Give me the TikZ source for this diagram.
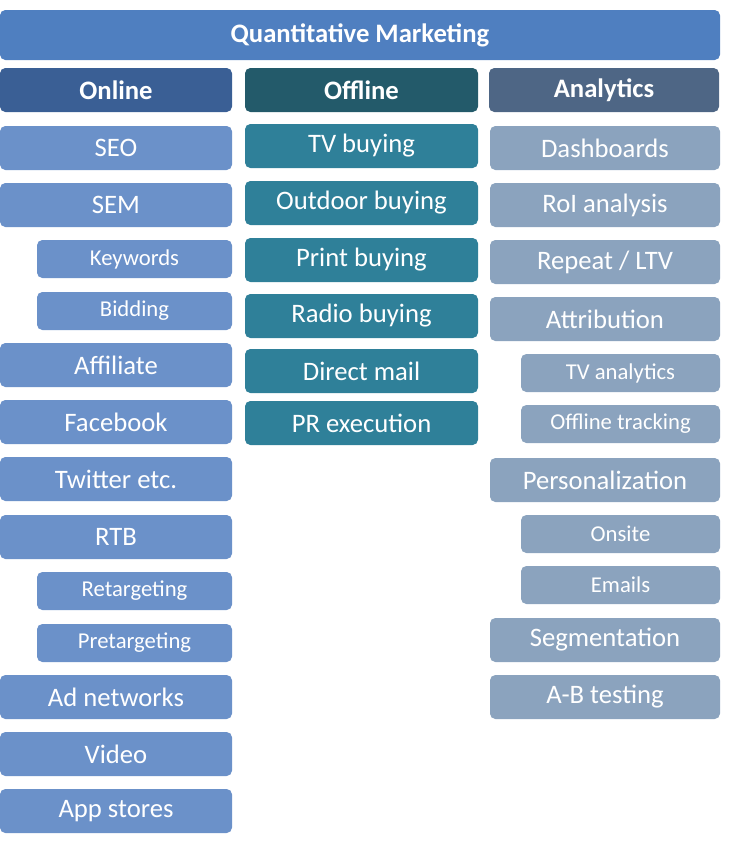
\documentclass[tikz,border=0pt]{standalone}
\usepackage{fontspec}
\setmainfont{Carlito}
\definecolor{titleblue}{HTML}{4F7FC0}
\definecolor{onhead}{HTML}{3A5F95}
\definecolor{offhead}{HTML}{235A6A}
\definecolor{anhead}{HTML}{4E6685}
\definecolor{onitem}{HTML}{6B91C9}
\definecolor{offitem}{HTML}{2F8099}
\definecolor{anitem}{HTML}{8BA3BE}
\begin{document}
\begin{tikzpicture}[x=0.75pt,y=-0.75pt]
  \tikzstyle{box}=[rounded corners=4pt, text=white, inner sep=0pt]
  \tikzstyle{head}=[box, minimum height=33pt, font=\fontsize{20}{24}\selectfont\bfseries]
  \tikzstyle{item}=[box, minimum height=33pt, font=\fontsize{20}{24}\selectfont]
  \tikzstyle{sub}=[box, minimum height=28.5pt, font=\fontsize{17}{20}\selectfont]
  \tikzstyle{on}=[fill=onitem, minimum width=174pt]
  \tikzstyle{onsub}=[fill=onitem, minimum width=146.25pt]
  \tikzstyle{off}=[fill=offitem, minimum width=174.75pt]
  \tikzstyle{an}=[fill=anitem, minimum width=172.5pt]
  \tikzstyle{ansub}=[fill=anitem, minimum width=149.25pt]

  \useasboundingbox (0,0) rectangle (729,851);

  \node[head, fill=titleblue, minimum width=540pt, minimum height=37.5pt] (title) at (360,35) {Quantitative Marketing};
  \node[head, fill=onhead, minimum width=174pt]    (online)    at (116,90)   {Online};
  \node[head, fill=offhead, minimum width=174.75pt] (offline)  at (361.5,90) {Offline};
  \node[head, fill=anhead, minimum width=172.5pt]  (analytics) at (604,90)   {Analytics};

  % online
  \node[item, on]    (seo)   at (116,148)   {SEO};
  \node[item, on]    (sem)   at (116,205)   {SEM};
  \node[sub, onsub]  (kw)    at (134.5,259) {Keywords};
  \node[sub, onsub]  (bid)   at (134.5,311) {Bidding};
  \node[item, on]    (aff)   at (116,365)   {Affiliate};
  \node[item, on]    (fb)    at (116,422)   {Facebook};
  \node[item, on]    (tw)    at (116,479)   {Twitter etc.};
  \node[item, on]    (rtb)   at (116,537)   {RTB};
  \node[sub, onsub]  (ret)   at (134.5,591) {Retargeting};
  \node[sub, onsub]  (pre)   at (134.5,643) {Pretargeting};
  \node[item, on]    (adn)   at (116,697)   {Ad networks};
  \node[item, on]    (vid)   at (116,754)   {Video};
  \node[item, on]    (app)   at (116,811)   {App stores};

  % offline
  \node[item, off]   (tv)    at (361.5,146) {TV buying};
  \node[item, off]   (out)   at (361.5,203) {Outdoor buying};
  \node[item, off]   (print) at (361.5,260) {Print buying};
  \node[item, off]   (radio) at (361.5,316) {Radio buying};
  \node[item, off]   (mail)  at (361.5,371) {Direct mail};
  \node[item, off]   (pr)    at (361.5,423) {PR execution};

  % analytics
  \node[item, an]    (dash)  at (605,148)   {Dashboards};
  \node[item, an]    (roi)   at (605,205)   {RoI analysis};
  \node[item, an]    (rep)   at (605,262)   {Repeat / LTV};
  \node[item, an]    (attr)  at (605,319)   {Attribution};
  \node[sub, ansub]  (tva)   at (620.5,373) {TV analytics};
  \node[sub, ansub]  (offt)  at (620.5,424) {Offline tracking};
  \node[item, an]    (pers)  at (605,480)   {Personalization};
  \node[sub, ansub]  (ons)   at (620.5,534) {Onsite};
  \node[sub, ansub]  (em)    at (620.5,585) {Emails};
  \node[item, an]    (seg)   at (605,640)   {Segmentation};
  \node[item, an]    (ab)    at (605,697)   {A-B testing};
\end{tikzpicture}
\end{document}
